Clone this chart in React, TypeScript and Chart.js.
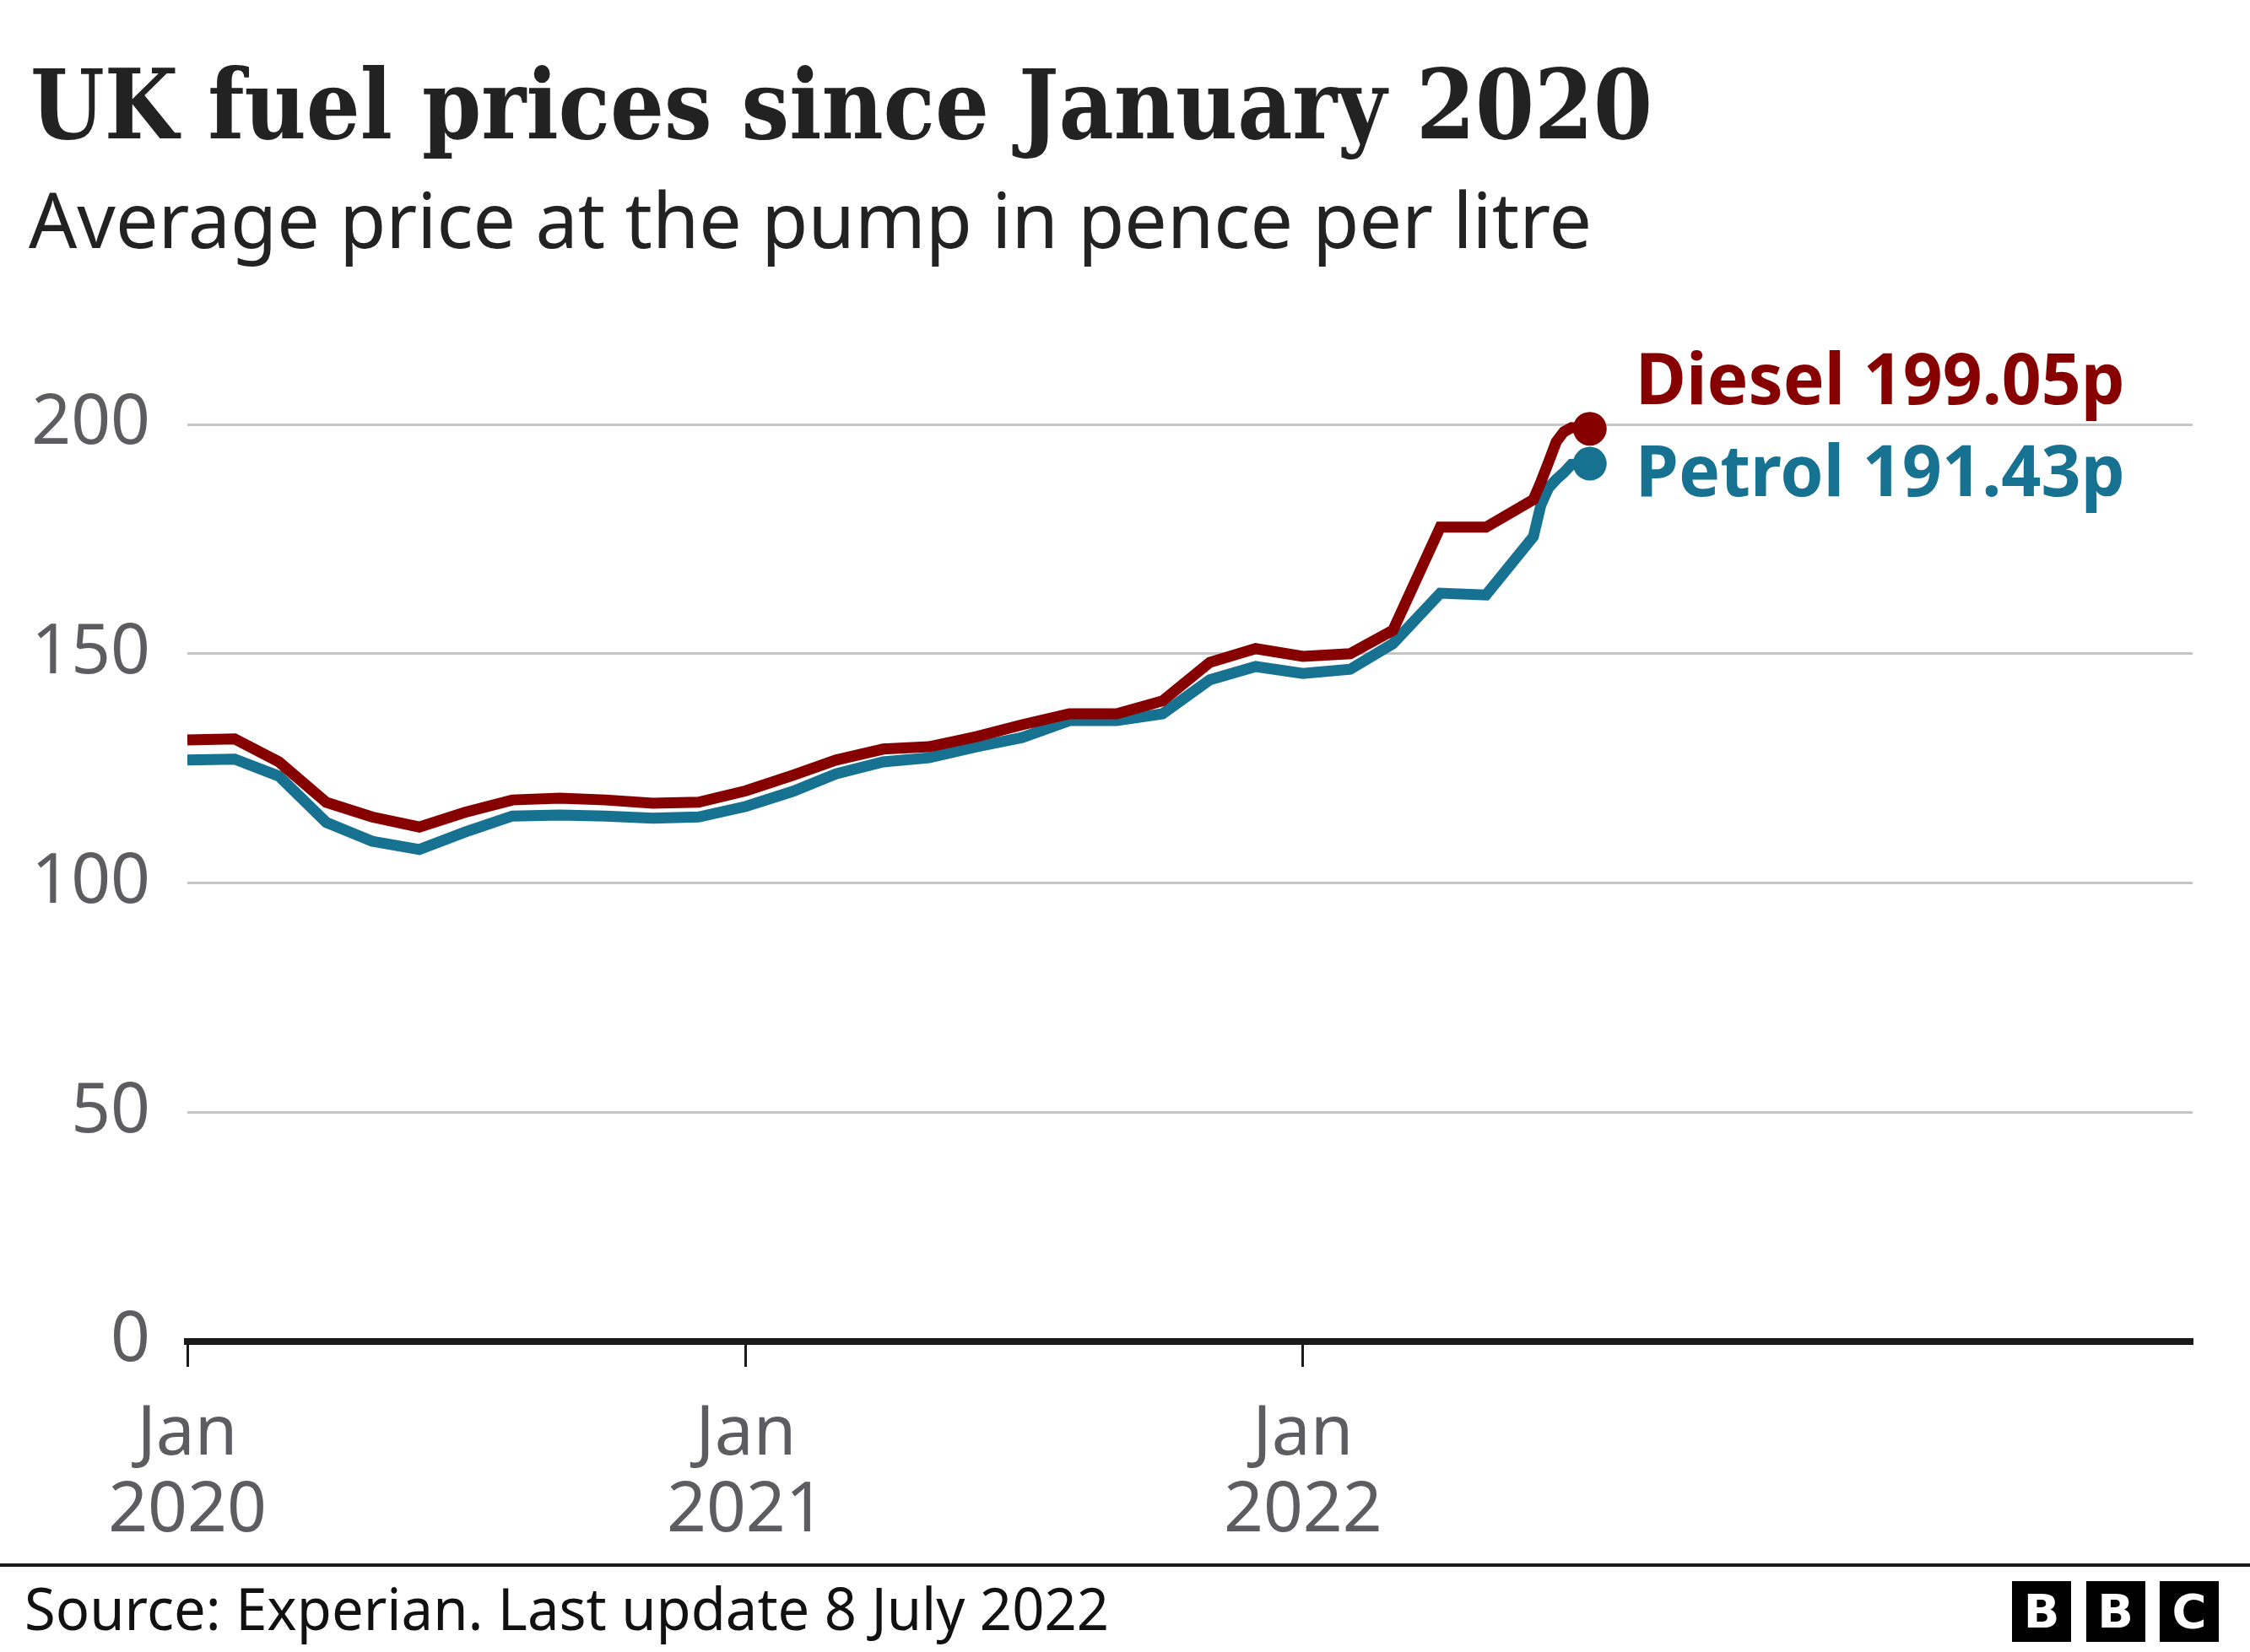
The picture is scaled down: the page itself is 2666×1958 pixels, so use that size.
import React, { useEffect, useLayoutEffect, useRef } from "react";
import { Chart, registerables } from "chart.js";

Chart.register(...registerables);

// ---- data ----
// x: days since 1 January 2020
const dayOffsets = [
  0, 31, 60, 91, 121, 152, 182, 213, 244, 274, 305, 335,
  366, 397, 425, 456, 486, 517, 547, 578, 609, 639, 670, 700,
  731, 762, 790, 821, 851, 882, 887, 892, 897, 902, 907, 919,
];
const dieselPrices = [
  131.2, 131.4, 126.4, 117.6, 114.4, 112.2, 115.4, 118.1, 118.5, 118.1, 117.4, 117.6,
  120.1, 123.5, 126.8, 129.2, 129.7, 131.9, 134.5, 136.9, 136.9, 139.7, 148.1, 151.1,
  149.4, 150.0, 155.1, 177.6, 177.6, 183.6, 187.5, 191.8, 196.2, 198.4, 199.3, 199.05,
];
const petrolPrices = [
  126.8, 127.0, 123.3, 113.2, 109.1, 107.3, 111.1, 114.6, 114.8, 114.6, 114.1, 114.4,
  116.7, 120.0, 123.8, 126.4, 127.3, 129.7, 131.7, 135.4, 135.4, 136.9, 144.3, 147.2,
  145.7, 146.6, 152.2, 163.2, 162.8, 175.5, 182.5, 186.2, 188.0, 189.5, 191.3, 191.43,
];
const seriesNames = ["Diesel", "Petrol"];
const endLabels = ["Diesel 199.05p", "Petrol 191.43p"];
const xTickDays = [0, 366, 731];
const xTickLabels = [["Jan", "2020"], ["Jan", "2021"], ["Jan", "2022"]];
const yTicks = [0, 50, 100, 150, 200];

const titleText = "UK fuel prices since January 2020";
const subtitleText = "Average price at the pump in pence per litre";
const sourceText = "Source: Experian. Last update 8 July 2022";
const logoLetters = ["B", "B", "C"];

// ---- styles ----
const RED = "#870000";
const BLUE = "#177191";
const GRAY = "#5c5c61";
const INK = "#222222";
const W = 2666;
const H = 1958;
const X_AXIS_H = 270;

function FitText(props: { text: string; left: number; top: number; width: number; style: React.CSSProperties }) {
  const ref = useRef<HTMLDivElement>(null);
  useLayoutEffect(() => {
    const el = ref.current;
    if (!el) return;
    el.style.transform = "none";
    const w = el.getBoundingClientRect().width;
    if (w > 0) el.style.transform = `scaleX(${props.width / w})`;
  }, [props.text, props.width]);
  return (
    <div
      ref={ref}
      style={{
        position: "absolute",
        left: props.left,
        top: props.top,
        whiteSpace: "nowrap",
        transformOrigin: "0 0",
        ...props.style,
      }}
    >
      {props.text}
    </div>
  );
}

const endLabelPlugin = {
  id: "endLabels",
  afterDatasetsDraw(chart: any) {
    const ctx = chart.ctx;
    const offsets = [-29, 38];
    chart.data.datasets.forEach((ds: any, i: number) => {
      const meta = chart.getDatasetMeta(i);
      const pt = meta.data[meta.data.length - 1];
      if (!pt) return;
      ctx.save();
      ctx.font = 'bold 84px "Noto Sans"';
      ctx.fillStyle = ds.borderColor;
      ctx.textAlign = "left";
      ctx.textBaseline = "alphabetic";
      ctx.fillText(endLabels[i], pt.x + 54, pt.y + offsets[i], 580);
      ctx.restore();
    });
  },
};

export default function App() {
  const canvasRef = useRef<HTMLCanvasElement>(null);

  useEffect(() => {
    const canvas = canvasRef.current;
    if (!canvas) return;
    const last = dayOffsets.length - 1;
    const mk = (name: string, values: number[], color: string) => ({
      label: name,
      data: dayOffsets.map((d, i) => ({ x: d, y: values[i] })),
      borderColor: color,
      backgroundColor: color,
      borderWidth: 13,
      tension: 0,
      borderJoinStyle: "miter" as const,
      pointRadius: (c: any) => (c.dataIndex === last ? 20 : 0),
      pointHoverRadius: 0,
      pointBackgroundColor: color,
      pointBorderWidth: 0,
      clip: false as any,
    });
    const chart = new Chart(canvas, {
      type: "line",
      data: {
        datasets: [
          mk(seriesNames[0], dieselPrices, RED),
          mk(seriesNames[1], petrolPrices, BLUE),
        ],
      },
      options: {
        animation: false,
        responsive: false,
        devicePixelRatio: 1,
        events: [],
        layout: { padding: { left: 0, top: 503, right: 68, bottom: H - 1590 - X_AXIS_H } },
        plugins: { legend: { display: false }, tooltip: { enabled: false }, title: { display: false } },
        scales: {
          x: {
            type: "linear",
            min: 0,
            max: 1314,
            afterBuildTicks: (s: any) => {
              s.ticks = xTickDays.map((v) => ({ value: v }));
            },
            afterFit: (s: any) => {
              s.height = X_AXIS_H;
            },
            ticks: {
              autoSkip: false,
              maxRotation: 0,
              minRotation: 0,
              padding: 36,
              color: GRAY,
              font: { family: "Noto Sans", size: 82, lineHeight: 1.1 },
              callback: (_v: any, i: number) => xTickLabels[i],
            },
            grid: {
              drawOnChartArea: false,
              drawTicks: true,
              tickLength: 30,
              tickWidth: 3,
              tickColor: "#1a1a1a",
              color: "#1a1a1a",
            },
            border: { display: true, color: "#1a1a1a", width: 8 },
          },
          y: {
            min: 0,
            max: 200,
            afterBuildTicks: (s: any) => {
              s.ticks = yTicks.map((v) => ({ value: v }));
            },
            afterFit: (s: any) => {
              s.width = 222;
            },
            ticks: {
              padding: 44,
              color: GRAY,
              font: { family: "Noto Sans", size: 82 },
            },
            grid: {
              drawTicks: false,
              lineWidth: 3,
              color: (c: any) => (c.tick && c.tick.value === 0 ? "rgba(0,0,0,0)" : "#c6c6c6"),
            },
            border: { display: false },
          },
        },
      },
      plugins: [endLabelPlugin],
    });
    return () => chart.destroy();
  }, []);

  return (
    <div style={{ position: "absolute", left: 0, top: 0, width: W, height: H, background: "#fff", overflow: "hidden" }}>
      <canvas ref={canvasRef} width={W} height={H} style={{ position: "absolute", left: 0, top: 0, width: W, height: H }} />
      <FitText
        text={titleText}
        left={36}
        top={67}
        width={1922}
        style={{ fontFamily: '"DejaVu Serif", serif', fontStretch: "condensed", fontWeight: 700, fontSize: 114, lineHeight: "114px", color: INK }}
      />
      <FitText
        text={subtitleText}
        left={34}
        top={214}
        width={1852}
        style={{ fontFamily: '"Noto Sans", sans-serif', fontWeight: 400, fontSize: 91, lineHeight: "91px", color: INK }}
      />
      <div style={{ position: "absolute", left: 0, top: 1853, width: W, height: 4, background: "#1a1a1a" }} />
      <FitText
        text={sourceText}
        left={29}
        top={1871}
        width={1285}
        style={{ fontFamily: '"Noto Sans", sans-serif', fontWeight: 400, fontSize: 69, lineHeight: "69px", color: "#111" }}
      />
      {logoLetters.map((l, i) => (
        <div
          key={i}
          style={{
            position: "absolute",
            left: 2384 + i * 87.5,
            top: 1874,
            width: 70,
            height: 72,
            background: "#000",
            color: "#fff",
            display: "flex",
            alignItems: "center",
            justifyContent: "center",
            fontFamily: '"DejaVu Sans", sans-serif',
            fontWeight: 700,
            fontSize: 56,
            lineHeight: "72px",
          }}
        >
          {l}
        </div>
      ))}
    </div>
  );
}
